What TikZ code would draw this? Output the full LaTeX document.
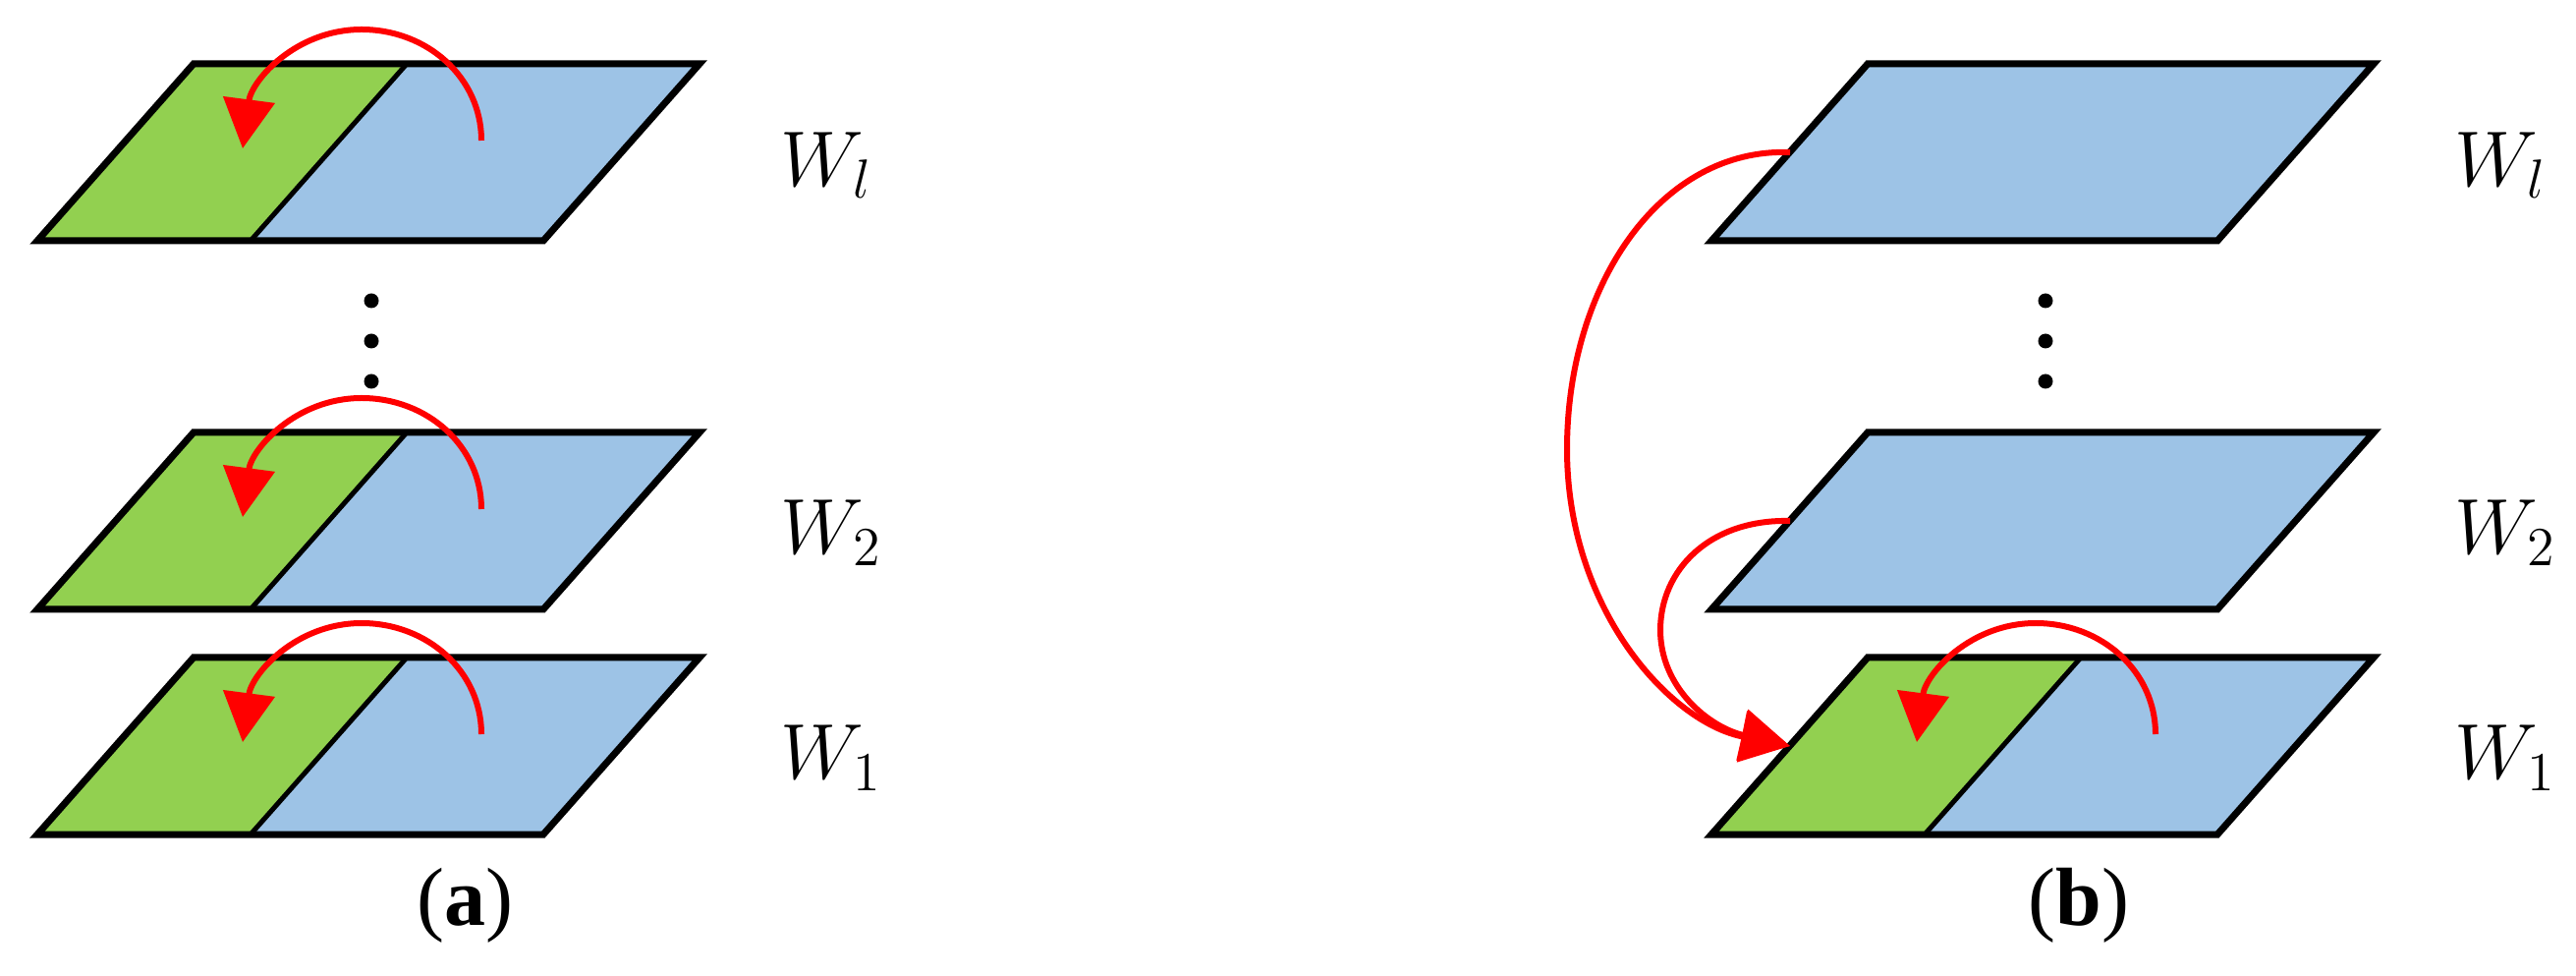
\RequirePackage{fix-cm}
\documentclass[tikz,border=0pt]{standalone}
\usepackage{fontspec}
\newfontfamily\labelfont{Liberation Serif}
\usetikzlibrary{arrows.meta}
\definecolor{leafgreen}{RGB}{146,208,80}
\definecolor{skyblue}{RGB}{157,195,230}
\tikzset{
  planeline/.style={draw=black, line width=1.75pt, line join=miter},
  divline/.style={draw=black, line width=1.25pt},
  rotarrow/.style={draw=red, line width=1.5pt, -{Triangle[length=12.5pt,width=13pt]}},
  wlabel/.style={anchor=base west, inner sep=0pt, font=\fontsize{20}{24}\selectfont},
  panellabel/.style={inner sep=0pt, font=\labelfont\fontsize{21}{25}\selectfont},
  dotmark/.style={fill=black},
  pics/blueplane/.style={code={
    \fill[skyblue] (38,180) -- (197,0) -- (712,0) -- (553,180) -- cycle;
    \draw[planeline] (38,180) -- (197,0) -- (712,0) -- (553,180) -- cycle;
  }},
  pics/splitplane/.style={code={
    \fill[leafgreen] (38,180) -- (197,0) -- (414,0) -- (255,180) -- cycle;
    \fill[skyblue] (255,180) -- (414,0) -- (712,0) -- (553,180) -- cycle;
    \draw[divline] (414,0) -- (255,180);
    \draw[planeline] (38,180) -- (197,0) -- (712,0) -- (553,180) -- cycle;
    \draw[rotarrow] (490,78) .. controls (490,14) and (435,-35) .. (368,-35)
                           .. controls (301,-35) and (256,17) .. (247,86);
  }},
}
\begin{document}
\begin{tikzpicture}[x=0.25pt, y=-0.25pt]
  \useasboundingbox (0,0) rectangle (2622,993);
  % ---------- panel (a) ----------
  \pic at (0,65)  {splitplane};
  \pic at (0,440) {splitplane};
  \pic at (0,669) {splitplane};
  \fill[dotmark] (378,306) circle (7.5);
  \fill[dotmark] (378,347) circle (7.5);
  \fill[dotmark] (378,388) circle (7.5);
  \node[wlabel] (aWl) at (794,190) {$W_l$};
  \node[wlabel] (aW2) at (794,564) {$W_2$};
  \node[wlabel] (aW1) at (794,792) {$W_1$};
  \node[panellabel] (laba) at (473,921) {(\textbf{a})};
  % ---------- panel (b) ----------
  \pic at (1704,65)  {blueplane};
  \pic at (1704,440) {blueplane};
  \pic at (1704,669) {splitplane};
  \fill[dotmark] (2082,306) circle (7.5);
  \fill[dotmark] (2082,347) circle (7.5);
  \fill[dotmark] (2082,388) circle (7.5);
  \coordinate (btop) at (1822,155);
  \coordinate (bmid) at (1822,530);
  \coordinate (bbot) at (1822,759);
  \draw[rotarrow] (btop) .. controls (1690,150) and (1595,290) .. (1595,457)
                         .. controls (1595,620) and (1700,735) .. (bbot);
  \draw[rotarrow] (bmid) .. controls (1740,528) and (1690,580) .. (1690,641)
                         .. controls (1690,700) and (1740,740) .. (bbot);
  \node[wlabel] (bWl) at (2498,190) {$W_l$};
  \node[wlabel] (bW2) at (2498,564) {$W_2$};
  \node[wlabel] (bW1) at (2498,792) {$W_1$};
  \node[panellabel] (labb) at (2116,921) {(\textbf{b})};
\end{tikzpicture}
\end{document}
